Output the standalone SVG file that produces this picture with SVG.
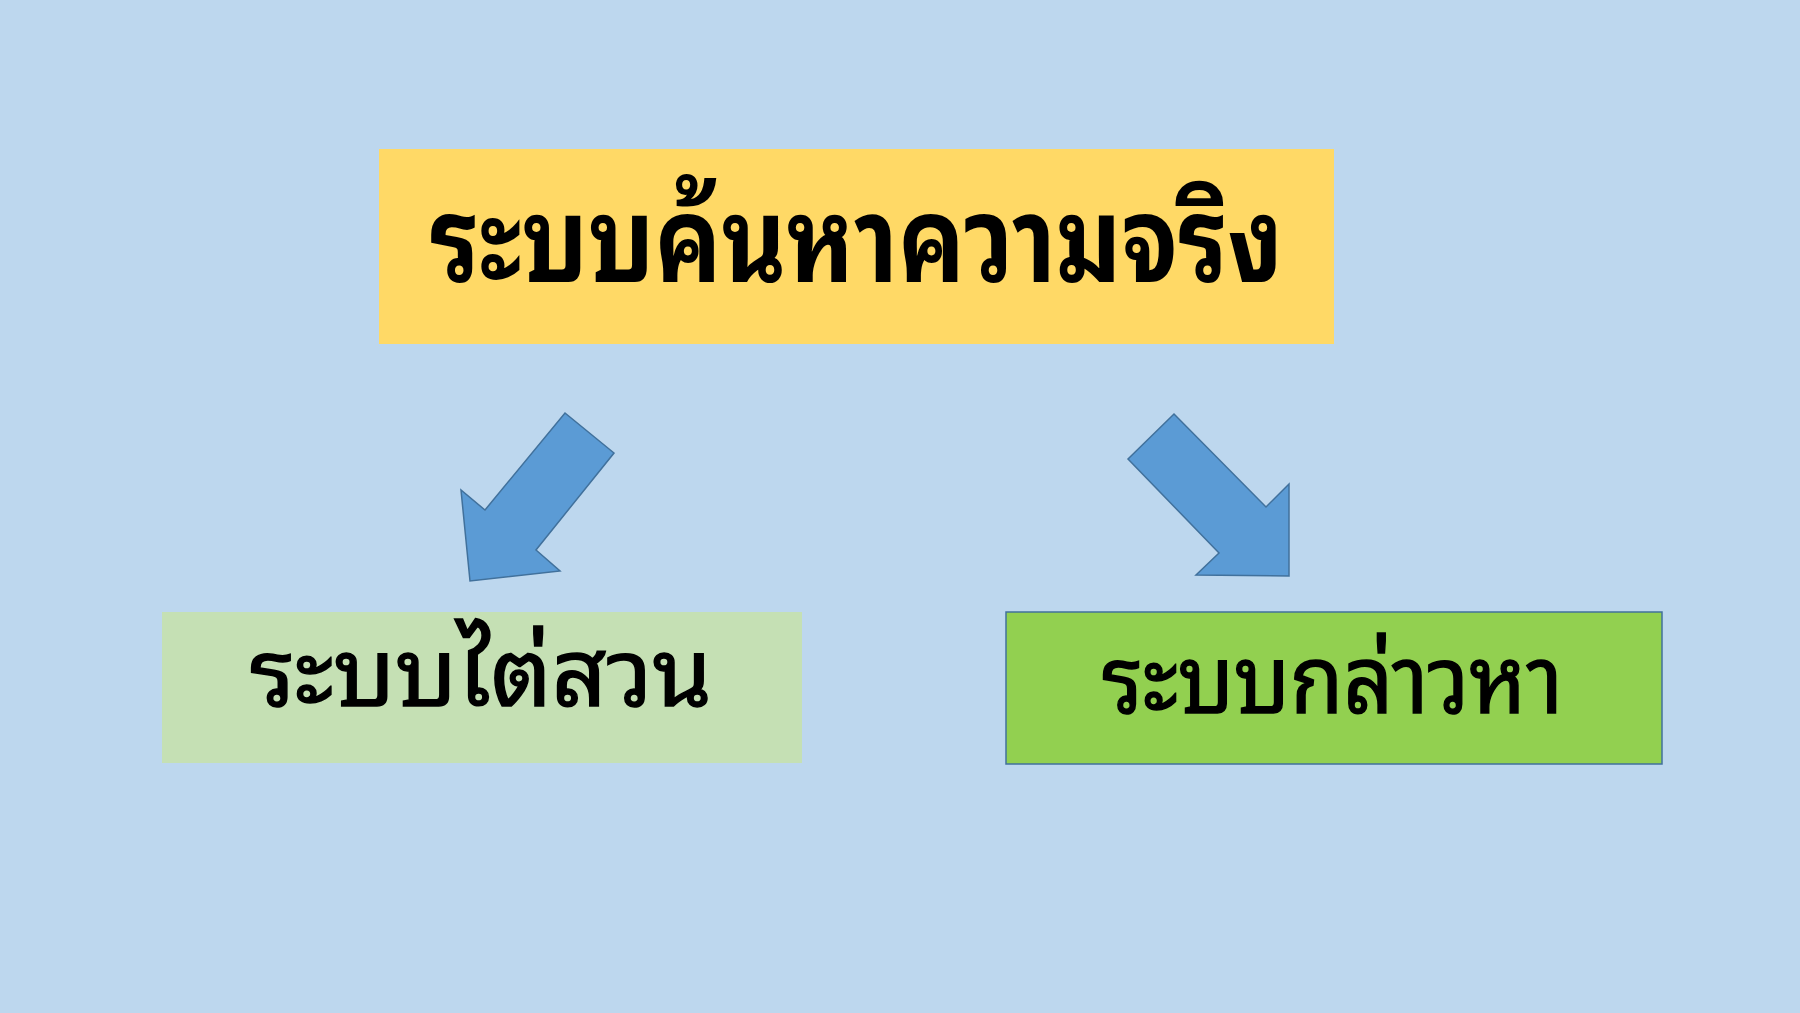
<svg xmlns="http://www.w3.org/2000/svg" width="1800" height="1013" viewBox="0 0 1800 1013">
<style>
.t{font-family:"Noto Sans Thai Looped","Noto Serif Thai","Loma","Garuda","Tlwg Typo","Norasi","Noto Sans Thai","Noto Sans",sans-serif;fill:#000;}
.arrow{fill:#5B9BD5;stroke:#41719C;stroke-width:1.5;stroke-linejoin:miter;}
</style>
<rect width="1800" height="1013" fill="#BDD7EE"/>
<g id="node-main">
<rect x="379" y="149" width="955" height="195" fill="#FFD966"/>
<text class="t" x="430" y="282" font-size="118" font-weight="bold" textLength="853" lengthAdjust="spacingAndGlyphs">ระบบค้นหาความจริง</text>
</g>
<g id="node-left">
<rect x="162" y="612" width="640" height="151" fill="#C5E0B4"/>
<text class="t" x="250" y="706" font-size="94" textLength="462" lengthAdjust="spacingAndGlyphs" stroke="#000" stroke-width="1.5">ระบบไต่สวน</text>
</g>
<g id="node-right">
<rect x="1006" y="612" width="656" height="152" fill="#92D050" stroke="#41719C" stroke-width="1.5"/>
<text class="t" x="1102" y="713" font-size="94" textLength="461" lengthAdjust="spacingAndGlyphs" stroke="#000" stroke-width="1.5">ระบบกล่าวหา</text>
</g>
<g id="connectors">
<polygon class="arrow" points="565,413 614,453 536,550 560,571 470,581 461,490 485,510"/>
<polygon class="arrow" points="1174,414 1266,507 1289,484 1289,576 1196,575 1219,553 1128,459"/>
</g>
</svg>
